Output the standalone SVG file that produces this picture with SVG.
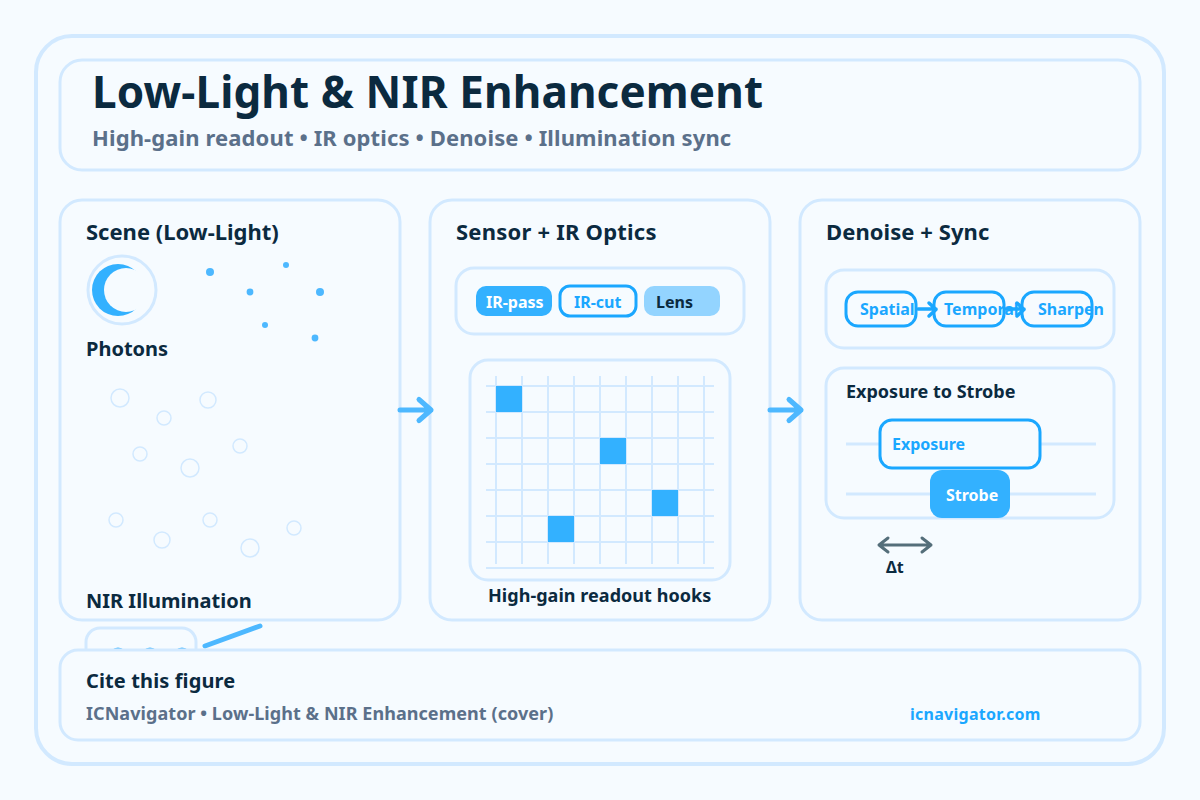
<svg xmlns="http://www.w3.org/2000/svg" width="1200" height="800" viewBox="0 0 1200 800">
<style>
text{font-family:"Noto Sans","Open Sans",sans-serif;font-weight:700}
.p{fill:#f6fbff;stroke:#d2e9ff;stroke-width:3}
.l{stroke:#d2e9ff;stroke-width:2;fill:none}
.tl{stroke:#d2e9ff;stroke-width:3;fill:none}
.ring{fill:none;stroke:#d2e9ff;stroke-width:1.5}
.star{fill:#4db8ff}
.cell{fill:#33b1ff}
.h{fill:#0b2a3f;font-size:22px}
.h2{fill:#0b2a3f;font-size:20px}
.h3{fill:#0b2a3f;font-size:18px}
.pill{fill:#f6fbff;stroke:#1aa7ff;stroke-width:3}
.bt{fill:#1aa7ff;font-size:16px}
.wt{fill:#fff;font-size:16px}
.big{stroke:#4db8ff;stroke-width:5;stroke-linecap:round;stroke-linejoin:round;fill:none}
.small{stroke:#1aa7ff;stroke-width:3.5;stroke-linecap:round;stroke-linejoin:round;fill:none}
</style>
<rect width="1200" height="800" fill="#f6fbff"/>
<rect id="frame" x="36" y="36" width="1128" height="728" rx="36" fill="#f6fbff" stroke="#d2e9ff" stroke-width="4"/>
<g id="header">
<rect class="p" x="60" y="60" width="1080" height="110" rx="22"/>
<text x="92" y="108" font-size="44" letter-spacing="0.12" fill="#0b2a3f">Low-Light &amp; NIR Enhancement</text>
<text x="92" y="146" font-size="22" letter-spacing="0.12" fill="#5b708a">High-gain readout • IR optics • Denoise • Illumination sync</text>
</g>
<g id="scene">
<rect class="p" x="60" y="200" width="340" height="420" rx="22"/>
<text class="h" x="86" y="240">Scene (Low-Light)</text>
<circle cx="122" cy="290" r="34" fill="#f6fbff" stroke="#d2e9ff" stroke-width="3"/>
<circle cx="118" cy="290" r="26" fill="#33b1ff"/>
<circle cx="126" cy="290" r="22" fill="#f6fbff"/>
<text class="h2" x="86" y="356">Photons</text>
<circle class="star" cx="210" cy="272" r="4"/>
<circle class="star" cx="286" cy="265" r="3"/>
<circle class="star" cx="250" cy="292" r="3.4"/>
<circle class="star" cx="320" cy="292" r="4"/>
<circle class="star" cx="265" cy="325" r="3"/>
<circle class="star" cx="315" cy="338" r="3.4"/>
<circle class="ring" cx="120" cy="398" r="9"/>
<circle class="ring" cx="164" cy="418" r="7"/>
<circle class="ring" cx="208" cy="400" r="8"/>
<circle class="ring" cx="140" cy="454" r="7"/>
<circle class="ring" cx="190" cy="468" r="9"/>
<circle class="ring" cx="240" cy="446" r="7"/>
<circle class="ring" cx="116" cy="520" r="7"/>
<circle class="ring" cx="162" cy="540" r="8"/>
<circle class="ring" cx="210" cy="520" r="7"/>
<circle class="ring" cx="250" cy="548" r="9"/>
<circle class="ring" cx="294" cy="528" r="7"/>
<text class="h2" x="86" y="608">NIR Illumination</text>
</g>
<g id="nir-lamp">
<rect class="p" x="86" y="628" width="110" height="50" rx="14"/>
<circle class="star" cx="118" cy="656.5" r="9"/>
<circle class="star" cx="150" cy="656.5" r="9"/>
<circle class="star" cx="182" cy="656.5" r="9"/>
<line x1="205" y1="646" x2="260" y2="626" stroke="#4db8ff" stroke-width="5" stroke-linecap="round"/>
</g>
<g id="sensor">
<rect class="p" x="430" y="200" width="340" height="420" rx="22"/>
<text class="h" x="456" y="240" letter-spacing="0.22">Sensor + IR Optics</text>
<rect class="p" x="456" y="268" width="288" height="66" rx="18"/>
<rect x="476" y="286" width="76" height="30" rx="10" fill="#33b1ff"/>
<text class="wt" x="486" y="308">IR-pass</text>
<rect class="pill" x="560" y="286" width="76" height="30" rx="10"/>
<text class="bt" x="574" y="308">IR-cut</text>
<rect x="644" y="286" width="76" height="30" rx="10" fill="#93d4ff"/>
<text x="656" y="308" font-size="16" fill="#0b2a3f">Lens</text>
<rect class="p" x="470" y="360" width="260" height="220" rx="18"/>
<path class="l" d="M496 376V564M522 376V564M548 376V564M574 376V564M600 376V564M626 376V564M652 376V564M678 376V564M704 376V564"/>
<path class="l" d="M486 386H714M486 412H714M486 438H714M486 464H714M486 490H714M486 516H714M486 542H714M486 568H714"/>
<rect class="cell" x="496" y="386" width="26" height="26"/>
<rect class="cell" x="600" y="438" width="26" height="26"/>
<rect class="cell" x="652" y="490" width="26" height="26"/>
<rect class="cell" x="548" y="516" width="26" height="26"/>
<text class="h3" x="488" y="602" letter-spacing="0.04">High-gain readout hooks</text>
</g>
<g id="denoise">
<rect class="p" x="800" y="200" width="340" height="420" rx="22"/>
<text class="h" x="826" y="240" letter-spacing="0.07">Denoise + Sync</text>
<rect class="p" x="826" y="270" width="288" height="78" rx="18"/>
<rect class="pill" x="846" y="292" width="70" height="34" rx="12"/>
<text class="bt" x="860" y="315">Spatial</text>
<rect class="pill" x="934" y="292" width="70" height="34" rx="12"/>
<text class="bt" x="944" y="315">Temporal</text>
<rect class="pill" x="1022" y="292" width="70" height="34" rx="12"/>
<text class="bt" x="1038" y="315">Sharpen</text>
<rect class="p" x="826" y="368" width="288" height="150" rx="18"/>
<text class="h3" x="846" y="398">Exposure to Strobe</text>
<path class="tl" d="M846 444H1096M846 494H1096"/>
<rect class="pill" x="880" y="420" width="160" height="48" rx="12"/>
<text class="bt" x="892" y="450">Exposure</text>
<rect x="930" y="470" width="80" height="48" rx="12" fill="#33b1ff"/>
<text class="wt" x="946" y="501">Strobe</text>
<path d="M879 545H931M888 538L879 545L888 552M922 538L931 545L922 552" fill="none" stroke="#546e7a" stroke-width="3" stroke-linecap="round" stroke-linejoin="round"/>
<text x="886" y="573" font-size="16" fill="#0b2a3f">Δt</text>
</g>
<g id="connectors">
<path class="big" d="M400 410H431M419 399.500L431 410L419 420.500"/>
<path class="big" d="M770 410H801M789 399.500L801 410L789 420.500"/>
<path class="small" d="M918 309H936M929 303L936 309.500L929 316"/>
<path class="small" d="M1005 309H1024M1017 303L1024 309.500L1017 316"/>
</g>
<g id="cite">
<rect class="p" x="60" y="650" width="1080" height="90" rx="18"/>
<text class="h2" x="86" y="688" letter-spacing="0.12">Cite this figure</text>
<text x="86" y="720" font-size="18" letter-spacing="0.06" fill="#5b708a">ICNavigator • Low-Light &amp; NIR Enhancement (cover)</text>
<text class="bt" x="910" y="720" letter-spacing="0.27">icnavigator.com</text>
</g>
</svg>
